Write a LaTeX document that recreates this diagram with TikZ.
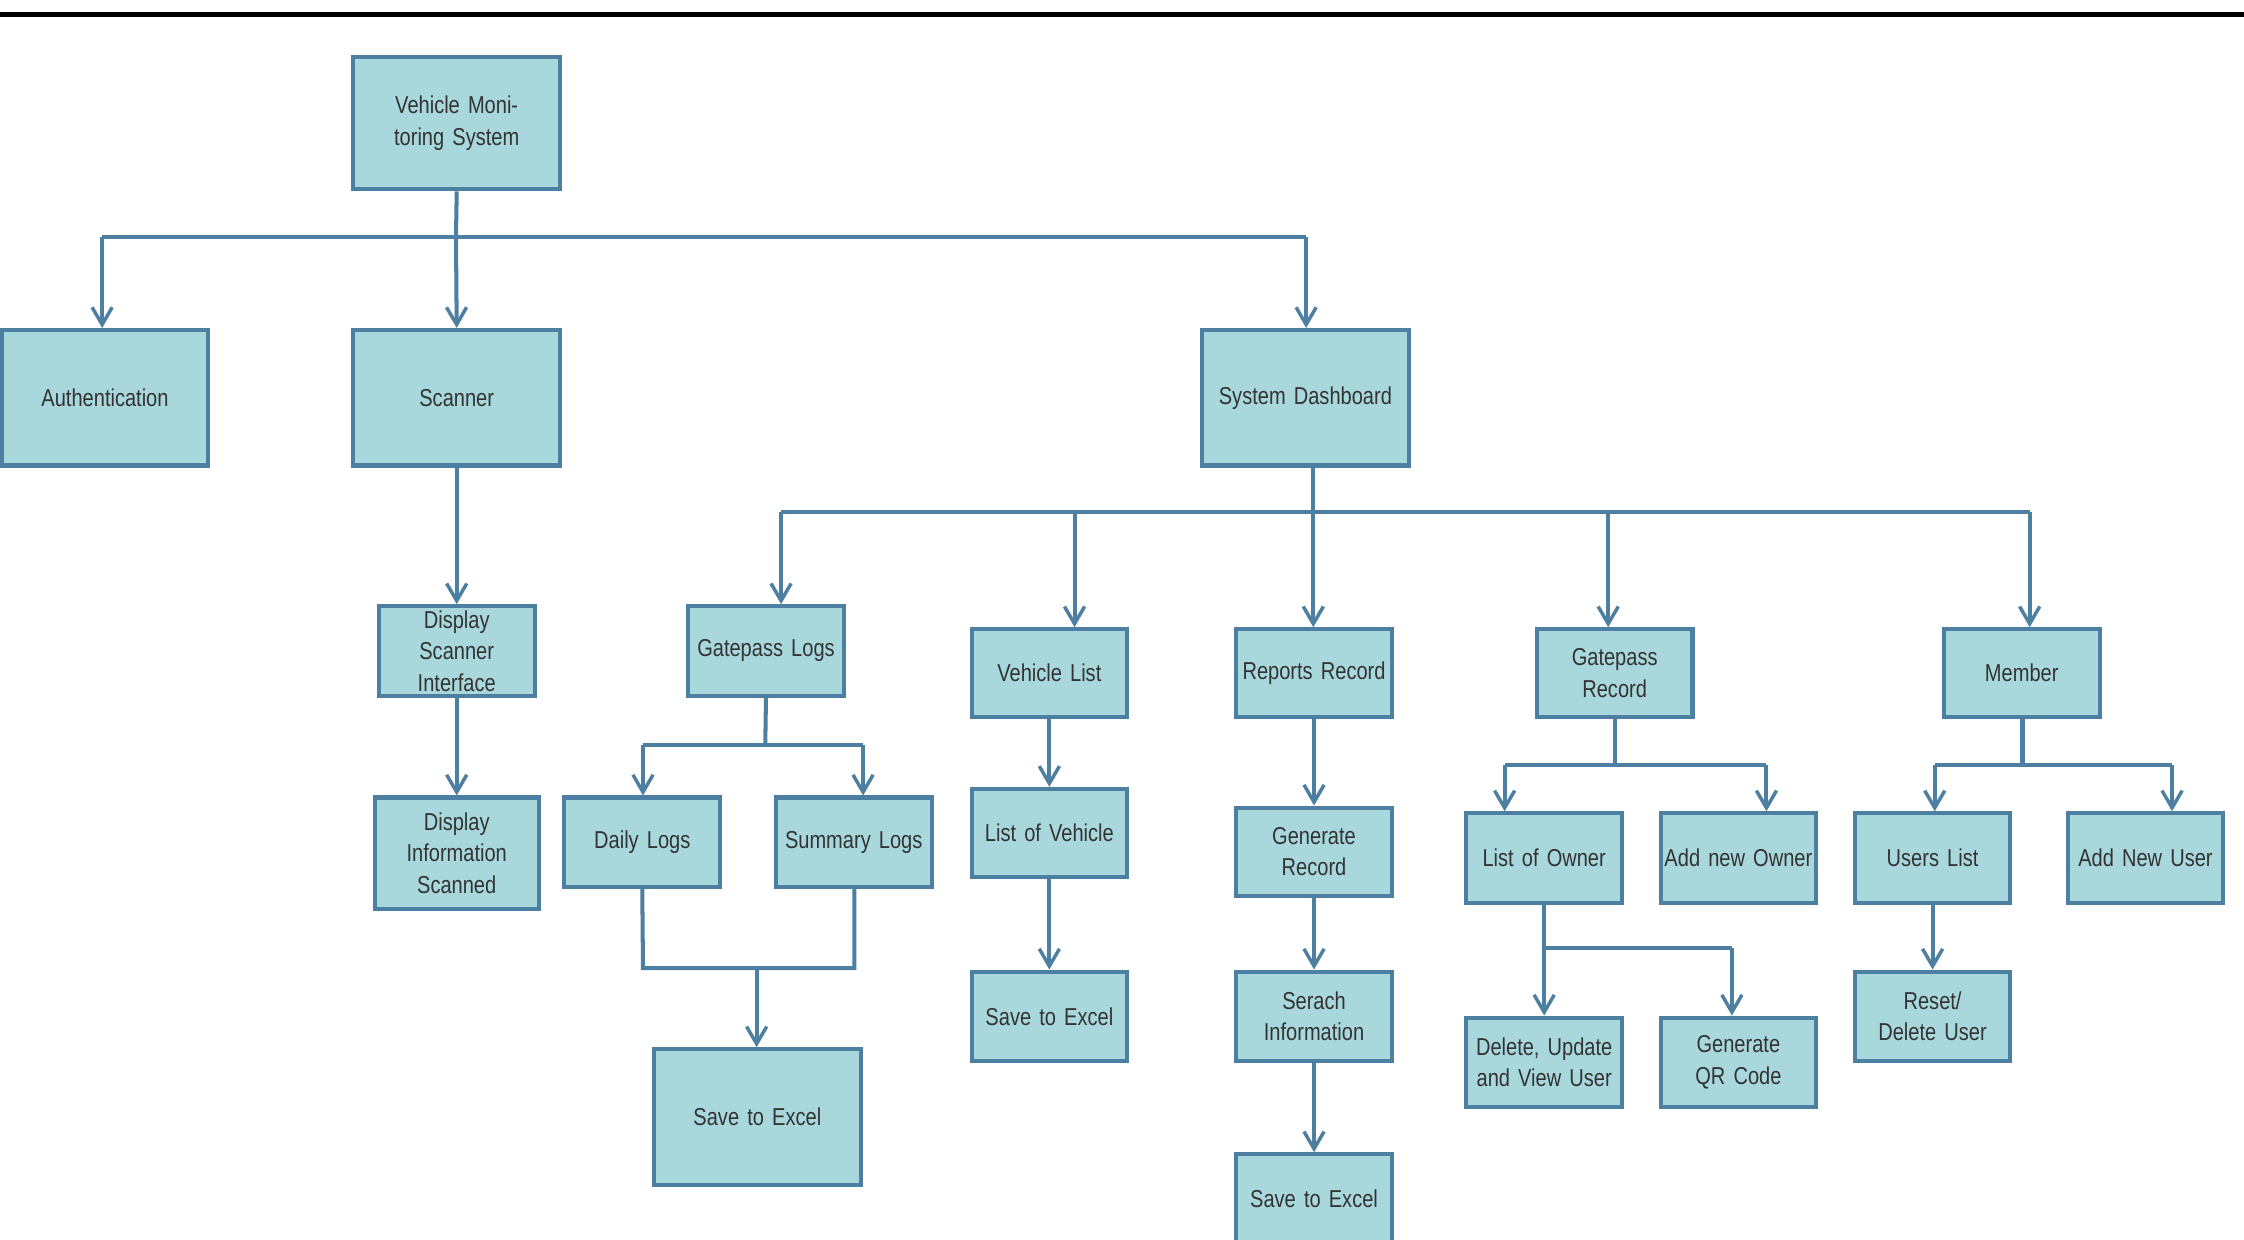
\documentclass[tikz,border=0pt]{standalone}
\usepackage{fontspec}
\setmainfont{Liberation Sans}[FakeStretch=0.82]
\usetikzlibrary{arrows.meta}
\definecolor{bfill}{HTML}{A8D8DC}
\definecolor{bdraw}{HTML}{4C7FA2}
\tikzset{
  box/.style={draw=bdraw,fill=bfill,line width=1.4pt,inner sep=1pt,align=center,font=\fontsize{8.5}{11}\selectfont,text=black!80},
  arr/.style={draw=bdraw,line width=1.4pt,-{Straight Barb[length=6pt,width=7pt,line width=1.2pt]}},
  ln/.style={draw=bdraw,line width=1.4pt}
}
\newcommand{\bx}[6]{\node[box,minimum width={(#4-#2)*0.5pt-1.4pt},minimum height={(#5-#3)*0.5pt-1.4pt},text width={(#4-#2)*0.5pt-4pt}] (#1) at ({(#2+#4)/2},{(#3+#5)/2}) {#6};}
\begin{document}
\begin{tikzpicture}[x=0.5pt,y=-0.5pt]
\useasboundingbox (0,0) rectangle (1560,862);
\fill[white] (0,0) rectangle (1560,862);
\draw[line width=2pt] (0,10) -- (1560,10);
\bx{vms}{244}{38}{391}{133}{Vehicle Monitoring System}
\bx{auth}{0}{228}{146}{325}{Authentication}
\bx{scan}{244}{228}{391}{325}{Scanner}
\bx{sd}{834}{228}{981}{325}{System Dashboard}
\bx{dsi}{262}{420}{373}{485}{Display Scanner Interface}
\bx{dis}{259}{553}{376}{633}{Display Information Scanned}
\bx{gl}{477}{420}{588}{485}{Gatepass Logs}
\bx{daily}{391}{553}{502}{618}{Daily Logs}
\bx{summ}{538}{553}{649}{618}{Summary Logs}
\bx{savegl}{453}{728}{600}{825}{Save to Excel}
\bx{vl}{674}{436}{785}{500}{Vehicle List}
\bx{lov}{674}{547}{785}{611}{List of Vehicle}
\bx{savevl}{674}{674}{785}{739}{Save to Excel}
\bx{rr}{858}{436}{969}{500}{Reports Record}
\bx{gr}{858}{560}{969}{624}{Generate Record}
\bx{si}{858}{674}{969}{739}{Serach Information}
\bx{saverr}{858}{801}{969}{866}{Save to Excel}
\bx{gpr}{1067}{436}{1178}{500}{Gatepass Record}
\bx{loo}{1018}{564}{1129}{629}{List of Owner}
\bx{ano}{1153}{564}{1264}{629}{Add new Owner}
\bx{duv}{1018}{706}{1129}{771}{Delete, Update and View User}
\bx{qr}{1153}{706}{1264}{771}{Generate QR Code}
\bx{mem}{1350}{436}{1461}{500}{Member}
\bx{ul}{1288}{564}{1399}{629}{Users List}
\bx{anu}{1436}{564}{1547}{629}{Add New User}
\bx{rdu}{1288}{674}{1399}{739}{Reset/ Delete User}
% top level
\coordinate (t0) at (317,165);
\draw[ln] (vms.south) -- (t0);
\draw[ln] (71,165) -- (908,165);
\coordinate (t1) at (71,165); \coordinate (t2) at (908,165);
\draw[arr] (t1) -- (t1 |- auth.north);
\draw[arr] (t0) -- (scan.north);
\draw[arr] (t2) -- (t2 |- sd.north);
% dashboard
\coordinate (d0) at (913,356);
\draw[ln] (d0 |- sd.south) -- (d0);
\draw[ln] (543,356) -- (1411,356);
\coordinate (d1) at (543,356); \coordinate (d2) at (747,356);
\coordinate (d4) at (1118,356); \coordinate (d5) at (1411,356);
\draw[arr] (d1) -- (d1 |- gl.north);
\draw[arr] (d2) -- (d2 |- vl.north);
\draw[arr] (d0) -- (d0 |- rr.north);
\draw[arr] (d4) -- (d4 |- gpr.north);
\draw[arr] (d5) -- (d5 |- mem.north);
% scanner
\draw[arr] (scan.south) -- (dsi.north);
\draw[arr] (dsi.south) -- (dis.north);
% gatepass logs
\coordinate (g0) at (532,518);
\draw[ln] (gl.south) -- (g0);
\draw[ln] (447,518) -- (600,518);
\coordinate (g1) at (447,518); \coordinate (g2) at (600,518);
\draw[arr] (g1) -- (g1 |- daily.north);
\draw[arr] (g2) -- (g2 |- summ.north);
\coordinate (s1) at (447,673); \coordinate (s2) at (594,673); \coordinate (s0) at (526,673);
\draw[ln] (daily.south) -- (s1) -- (s2) -- (s2 |- summ.south);
\draw[arr] (s0) -- (s0 |- savegl.north);
% vehicle list
\draw[arr] (vl.south) -- (lov.north);
\draw[arr] (lov.south) -- (savevl.north);
% reports
\draw[arr] (rr.south) -- (gr.north);
\draw[arr] (gr.south) -- (si.north);
\draw[arr] (si.south) -- (saverr.north);
% gatepass record
\coordinate (p0) at (1123,532);
\draw[ln] (p0 |- gpr.south) -- (p0);
\draw[ln] (1046,532) -- (1228,532);
\coordinate (p1) at (1046,532); \coordinate (p2) at (1228,532);
\draw[arr] (p1) -- (p1 |- loo.north);
\draw[arr] (p2) -- (p2 |- ano.north);
\coordinate (o0) at (1074,659); \coordinate (o2) at (1204,659);
\draw[arr] (loo.south) -- (loo.south |- duv.north);
\draw[ln] (o0) -- (o2);
\draw[arr] (o2) -- (o2 |- qr.north);
% member
\coordinate (m0) at (1406,532);
\draw[ln] (m0 |- mem.south) -- (m0);
\draw[ln] (1345,532) -- (1510,532);
\coordinate (m1) at (1345,532); \coordinate (m2) at (1510,532);
\draw[arr] (m1) -- (m1 |- ul.north);
\draw[arr] (m2) -- (m2 |- anu.north);
\draw[arr] (ul.south) -- (rdu.north);
\end{tikzpicture}
\end{document}
